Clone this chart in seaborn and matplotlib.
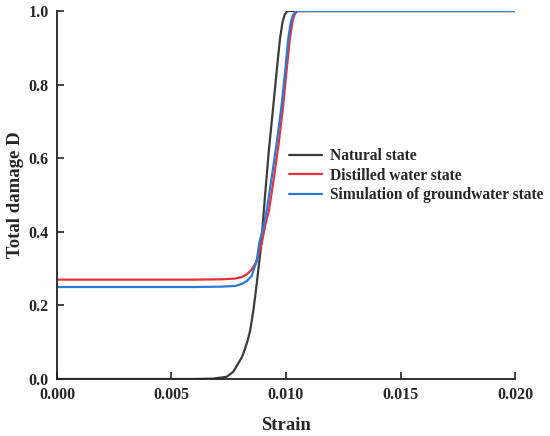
import matplotlib
matplotlib.use("Agg")
import matplotlib.pyplot as plt
import seaborn as sns
import pandas as pd

# ---- data ----
natural_strain = [0.0, 0.0060, 0.0068, 0.00741, 0.00770, 0.00792, 0.00808, 0.00821,
                  0.00833, 0.00843, 0.00857, 0.00872, 0.00883, 0.00891, 0.00908,
                  0.00925, 0.00945, 0.00959, 0.00974, 0.00985, 0.00994, 0.01005,
                  0.01017, 0.020]
natural_D = [0.0, 0.0, 0.001, 0.006, 0.020, 0.043, 0.060, 0.082,
             0.106, 0.130, 0.184, 0.258, 0.318, 0.360, 0.495,
             0.620, 0.745, 0.835, 0.926, 0.970, 0.990, 0.999,
             1.0, 1.0]

distilled_strain = [0.0, 0.0060, 0.0072, 0.0078, 0.0081, 0.0083, 0.0085, 0.0087,
                    0.00879, 0.00894, 0.00910, 0.00926, 0.00948, 0.00968, 0.00988,
                    0.01002, 0.01017, 0.01028, 0.01037, 0.01050, 0.020]
distilled_D = [0.270, 0.270, 0.271, 0.273, 0.278, 0.285, 0.297, 0.318,
               0.337, 0.369, 0.420, 0.459, 0.550, 0.640, 0.745,
               0.835, 0.926, 0.970, 0.990, 1.0, 1.0]

ground_strain = [0.0, 0.0060, 0.0072, 0.0078, 0.0081, 0.0083, 0.0085, 0.00872,
                 0.00883, 0.00900, 0.00916, 0.00938, 0.00959, 0.00981, 0.00996,
                 0.01010, 0.01021, 0.01031, 0.01045, 0.020]
ground_D = [0.250, 0.250, 0.251, 0.253, 0.259, 0.267, 0.280, 0.320,
            0.369, 0.410, 0.459, 0.550, 0.640, 0.745, 0.835,
            0.926, 0.970, 0.990, 1.0, 1.0]

series_names = ["Natural state", "Distilled water state", "Simulation of groundwater state"]
series_colors = ["#3c3c3c", "#e8303a", "#2b7bd6"]
x_ticks = [0.000, 0.005, 0.010, 0.015, 0.020]
y_ticks = [0.0, 0.2, 0.4, 0.6, 0.8, 1.0]

frames = []
for name, xs, ys in zip(series_names,
                        [natural_strain, distilled_strain, ground_strain],
                        [natural_D, distilled_D, ground_D]):
    frames.append(pd.DataFrame({"Strain": xs, "D": ys, "series": name}))
df = pd.concat(frames, ignore_index=True)

sns.set_style("ticks")
plt.rcParams['font.family'] = ['Liberation Serif', 'DejaVu Serif']
plt.rcParams['font.weight'] = 'bold'

fig = plt.figure(figsize=(5.5, 4.36), dpi=100)
ax = fig.add_axes([0.1036, 0.1307, 0.8328, 0.8441])

sns.lineplot(data=df, x="Strain", y="D", hue="series", hue_order=series_names,
             palette=series_colors, estimator=None, sort=False, units="series",
             linewidth=1.6, ax=ax)

ax.set_xlim(0, 0.020)
ax.set_ylim(0, 1.0)
ax.set_xticks(x_ticks)
ax.set_yticks(y_ticks)
ax.set_xticklabels([f"{v:.3f}" for v in x_ticks], fontsize=11.5, fontweight='bold')
ax.set_yticklabels([f"{v:.1f}" for v in y_ticks], fontsize=11.5, fontweight='bold')
ax.tick_params(direction='in', length=5, width=1.2, color='#222222', pad=6)
for s in ['top', 'right']:
    ax.spines[s].set_visible(False)
for s in ['left', 'bottom']:
    ax.spines[s].set_linewidth(1.3)
    ax.spines[s].set_color('#222222')

ax.set_xlabel("Strain", fontsize=13.5, fontweight='bold', labelpad=10)
ax.set_ylabel("Total damage D", fontsize=13.5, fontweight='bold', labelpad=3)

leg = ax.legend(loc='upper left', bbox_to_anchor=(0.50, 0.635), frameon=False,
                prop={'family': 'Liberation Serif', 'weight': 'bold', 'size': 11.2},
                handlelength=2.1, handletextpad=0.5, labelspacing=0.22,
                borderaxespad=0, borderpad=0.2)

fig.savefig("out.png", dpi=100)
